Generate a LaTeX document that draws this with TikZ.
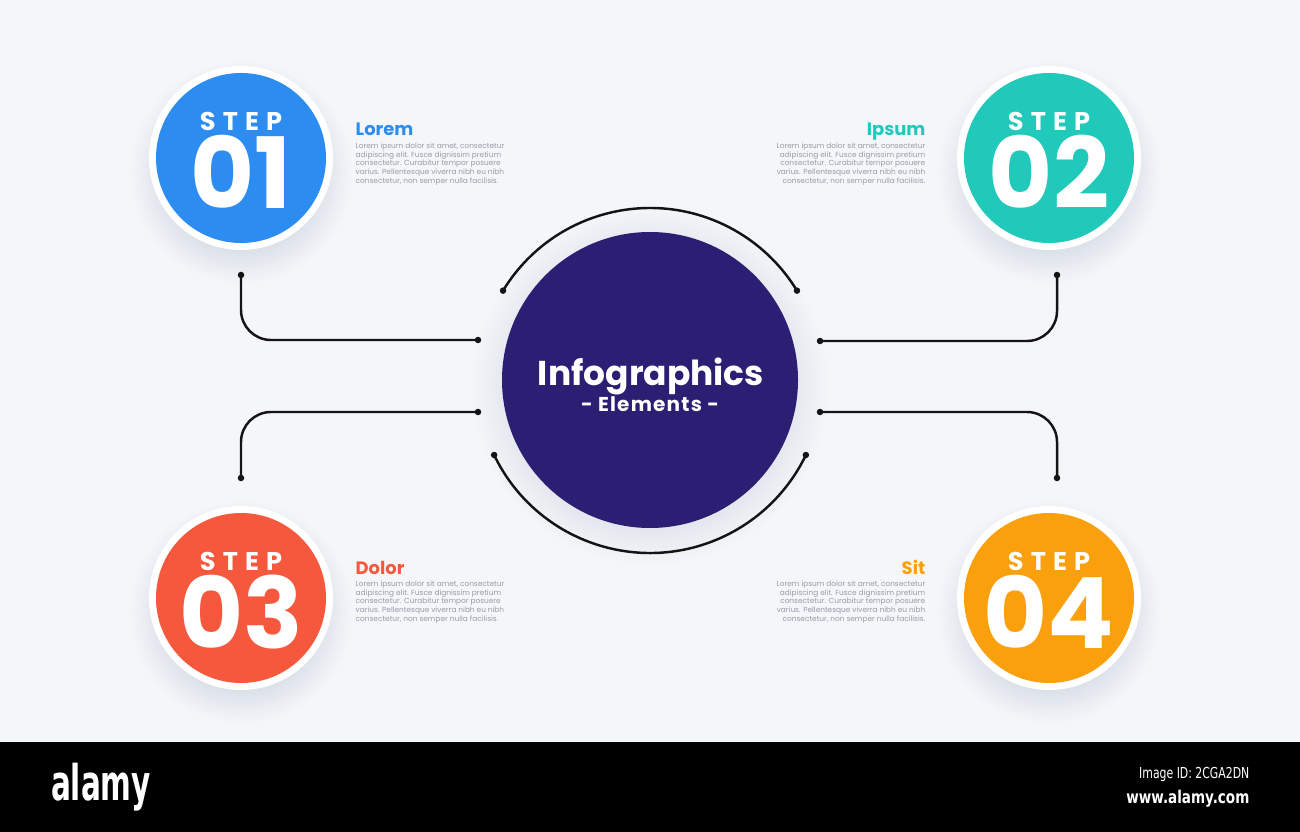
\documentclass[tikz,border=0pt]{standalone}
\usepackage{fontspec}
\setmainfont{Poppins}
\newfontfamily\barfont{DejaVu Sans}
\usetikzlibrary{calc,positioning}

\definecolor{pagebg}{RGB}{244,246,249}
\definecolor{shadowgray}{RGB}{212,217,227}
\definecolor{stepblue}{RGB}{45,140,240}
\definecolor{stepteal}{RGB}{32,201,186}
\definecolor{stepred}{RGB}{246,88,62}
\definecolor{steporange}{RGB}{250,160,12}
\definecolor{corenavy}{RGB}{44,30,114}
\definecolor{bodygray}{RGB}{150,156,168}
\definecolor{wirecol}{RGB}{20,20,20}

\pgfdeclareradialshading{softshade}{\pgfpoint{0bp}{0bp}}{color(0bp)=(shadowgray); color(15bp)=(shadowgray); color(25bp)=(pagebg); color(50bp)=(pagebg)}

\tikzset{
  ring/.style={circle, fill=white, minimum size=1.84cm, inner sep=0pt},
  disc/.style={circle, minimum size=1.70cm, inner sep=0pt},
  steplbl/.style={text=white, inner sep=0pt, font=\fontsize{7.3}{8}\selectfont\bfseries\addfontfeature{LetterSpace=28}},
  stepnum/.style={text=white, inner sep=0pt, font=\fontsize{28}{30}\selectfont\bfseries},
  headl/.style={inner sep=0pt, anchor=base west, font=\fontsize{5.1}{6}\selectfont\bfseries},
  headr/.style={inner sep=0pt, anchor=base east, font=\fontsize{5.1}{6}\selectfont\bfseries},
  bodyl/.style={inner sep=0pt, text=bodygray, align=left, font=\fontsize{2.1}{2.5}\selectfont},
  bodyr/.style={inner sep=0pt, text=bodygray, align=right, font=\fontsize{2.1}{2.5}\selectfont},
  joint/.style={circle, fill=wirecol, minimum size=0.065cm, inner sep=0pt},
  wireline/.style={draw=wirecol, line width=0.7pt, rounded corners=0.3cm},
  bartext/.style={text=white, inner sep=0pt}
}

\newcommand{\fillertext}{Lorem ipsum dolor sit amet, consectetur\\ adipiscing elit. Fusce dignissim pretium\\ consectetur. Curabitur tempor posuere\\ varius. Pellentesque viverra nibh eu nibh\\ consectetur, non semper nulla facilisis.}

\begin{document}
\begin{tikzpicture}
    \useasboundingbox (0,0) rectangle (13,-8.32);
    \fill [pagebg] (0,0) rectangle (13,-7.42);
    \fill [black] (0,-7.42) rectangle (13,-8.32);

    \shade [shading=softshade] (6.50,-3.86) circle (1.80);
    \shade [shading=softshade] (2.41,-1.72) circle (1.12);
    \shade [shading=softshade] (10.49,-1.72) circle (1.12);
    \shade [shading=softshade] (2.41,-6.12) circle (1.12);
    \shade [shading=softshade] (10.49,-6.12) circle (1.12);

    \node (core) [circle, fill=corenavy, minimum size=2.96cm, inner sep=0pt] at (6.50,-3.80) {};
    \node (title) [anchor=base, text=white, inner sep=0pt, font=\fontsize{9.8}{11}\selectfont\bfseries] at (6.51,-3.86) {Infographics};
    \node (subtitle) [anchor=base, text=white, inner sep=0pt, font=\fontsize{5.7}{7}\selectfont\bfseries\addfontfeature{LetterSpace=6}] at (6.50,-4.12) {- Elements -};

    \node (r1) [ring] at (2.41,-1.58) {};
    \node (c1) [disc, fill=stepblue] at (r1) {};
    \node (s1) [steplbl] at ([yshift=0.37cm]c1.center) {STEP};
    \node (n1) [stepnum] at ([yshift=-0.14cm]c1.center) {01};

    \node (r2) [ring] at (10.49,-1.58) {};
    \node (c2) [disc, fill=stepteal] at (r2) {};
    \node (s2) [steplbl] at ([yshift=0.37cm]c2.center) {STEP};
    \node (n2) [stepnum] at ([yshift=-0.14cm]c2.center) {02};

    \node (r3) [ring] at (2.41,-5.98) {};
    \node (c3) [disc, fill=stepred] at (r3) {};
    \node (s3) [steplbl] at ([yshift=0.37cm]c3.center) {STEP};
    \node (n3) [stepnum] at ([yshift=-0.14cm]c3.center) {03};

    \node (r4) [ring] at (10.49,-5.98) {};
    \node (c4) [disc, fill=steporange] at (r4) {};
    \node (s4) [steplbl] at ([yshift=0.37cm]c4.center) {STEP};
    \node (n4) [stepnum] at ([yshift=-0.14cm]c4.center) {04};

    \node (lorem) [headl, text=stepblue] at (3.55,-1.36) {Lorem};
    \node (lorembody) [bodyl, below right=0.06cm and 0cm of lorem.base west] {\fillertext};

    \node (ipsum) [headr, text=stepteal] at (9.26,-1.36) {Ipsum};
    \node (ipsumbody) [bodyr, below left=0.06cm and 0cm of ipsum.base east] {\fillertext};

    \node (dolor) [headl, text=stepred] at (3.55,-5.74) {Dolor};
    \node (dolorbody) [bodyl, below right=0.06cm and 0cm of dolor.base west] {\fillertext};

    \node (sit) [headr, text=steporange] at (9.26,-5.74) {Sit};
    \node (sitbody) [bodyr, below left=0.06cm and 0cm of sit.base east] {\fillertext};

    \node (ta) [joint] at ($(core.center)+(148.7:1.72)$) {};
    \node (tb) [joint] at ($(core.center)+(31.3:1.72)$) {};
    \node (ba) [joint] at ($(core.center)+(205.7:1.73)$) {};
    \node (bb) [joint] at ($(core.center)+(334.3:1.73)$) {};
    \draw [wireline] (ta.center) arc[start angle=148.7, end angle=31.3, radius=1.72];
    \draw [wireline] (ba.center) arc[start angle=205.7, end angle=334.3, radius=1.73];

    \node (l1) [joint] at (2.41,-2.75) {};
    \node (l2) [joint] at (4.78,-3.40) {};
    \node (l3) [joint] at (4.78,-4.12) {};
    \node (l4) [joint] at (2.41,-4.78) {};
    \node (q1) [joint] at (8.20,-3.41) {};
    \node (q2) [joint] at (10.57,-2.75) {};
    \node (q3) [joint] at (8.20,-4.12) {};
    \node (q4) [joint] at (10.57,-4.78) {};
    \draw [wireline] (l1.center) |- (l2.center);
    \draw [wireline] (l3.center) -| (l4.center);
    \draw [wireline] (q1.center) -| (q2.center);
    \draw [wireline] (q3.center) -| (q4.center);

    \node (brand) [bartext, anchor=base, font=\barfont\bfseries\fontsize{14}{16}\selectfont] at (1.01,-8.00) {\scalebox{0.6}[1]{alamy}};
    \node (imageid) [bartext, anchor=base east, font=\barfont\fontsize{4.3}{5}\selectfont] at (12.50,-7.78) {\scalebox{0.72}[1]{Image ID: 2CGA2DN}};
    \node (website) [bartext, anchor=base east, font=\barfont\bfseries\fontsize{5}{6}\selectfont] at (12.50,-8.03) {\scalebox{0.77}[1]{www.alamy.com}};
\end{tikzpicture}
\end{document}
